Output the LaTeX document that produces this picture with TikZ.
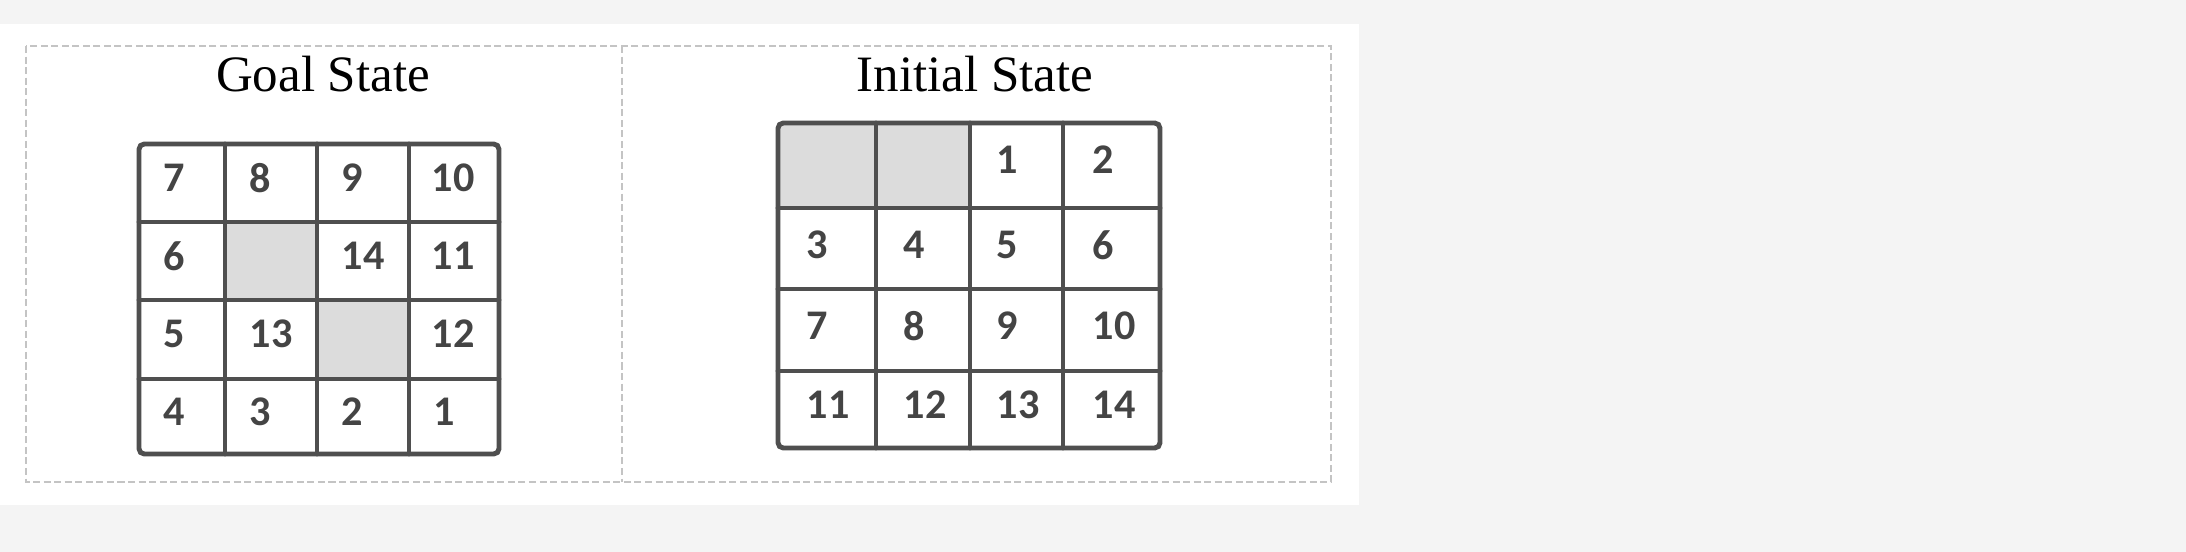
\documentclass[tikz,border=0pt]{standalone}
\usepackage{fontspec}
\setmainfont{Liberation Serif}
\newfontfamily\tilefont{Carlito}

\begin{document}
\begin{tikzpicture}[x=0.01cm,y=-0.01cm]
        \definecolor{pagegray}{HTML}{F4F4F4}
        \definecolor{blankgray}{HTML}{DCDCDC}
        \definecolor{gridgray}{HTML}{4F4F4F}
        \definecolor{dashgray}{HTML}{C4C4C4}
        \definecolor{digitgray}{HTML}{444444}
        \tikzset{
            gridline/.style={line width=1.4pt, draw=gridgray, line cap=round},
            tile/.style={anchor=west, inner sep=0pt, text=digitgray, font=\tilefont\bfseries\fontsize{12}{12}\selectfont},
            title/.style={font=\fontsize{14.5}{14.5}\selectfont}
        }

        \useasboundingbox (0,0) rectangle (2186,552);
        \fill[pagegray] (0,0) rectangle (2186,552);
        \fill[white] (0,24) rectangle (1359,505);
        \draw[dashgray, line width=0.5pt, dash pattern=on 2pt off 1pt] (26,46) rectangle (1331,482);
        \draw[dashgray, line width=0.5pt, dash pattern=on 2pt off 1pt] (622,46) -- (622,482);

        \node[title] (goaltitle) at (323,74) {Goal State};
        \node[title] (inittitle) at (975,74) {Initial State};

        % goal grid
        \fill[blankgray] (225,222) rectangle (317,300);
        \fill[blankgray] (317,300) rectangle (409,379);
        \draw[gridline, rounded corners=1.5pt] (139,144) rectangle (499,454);
        \draw[gridline] (225,144) -- (225,454) (317,144) -- (317,454) (409,144) -- (409,454);
        \draw[gridline] (139,222) -- (499,222) (139,300) -- (499,300) (139,379) -- (499,379);

        \foreach \x/\y/\t in {163/178/7, 249/178/8, 341/178/9, 431/178/10,
                              163/256/6, 341/256/14, 431/256/11,
                              163/334/5, 249/334/13, 431/334/12,
                              163/412/4, 249/412/3, 341/412/2, 433/412/1}
            \node[tile] (g\t) at (\x,\y) {\t};

        % initial grid
        \fill[blankgray] (778,123) rectangle (876,208);
        \fill[blankgray] (876,123) rectangle (970,208);
        \draw[gridline, rounded corners=1.5pt] (778,123) rectangle (1160,448);
        \draw[gridline] (876,123) -- (876,448) (970,123) -- (970,448) (1063,123) -- (1063,448);
        \draw[gridline] (778,208) -- (1160,208) (778,289) -- (1160,289) (778,371) -- (1160,371);

        \foreach \x/\y/\t in {996/160/1, 1092/160/2,
                              806/245/3, 903/245/4, 996/245/5, 1092/245/6,
                              806/326/7, 903/326/8, 996/326/9, 1092/326/10,
                              806/405/11, 903/405/12, 996/405/13, 1092/405/14}
            \node[tile] (i\t) at (\x,\y) {\t};
    \end{tikzpicture}
\end{document}
